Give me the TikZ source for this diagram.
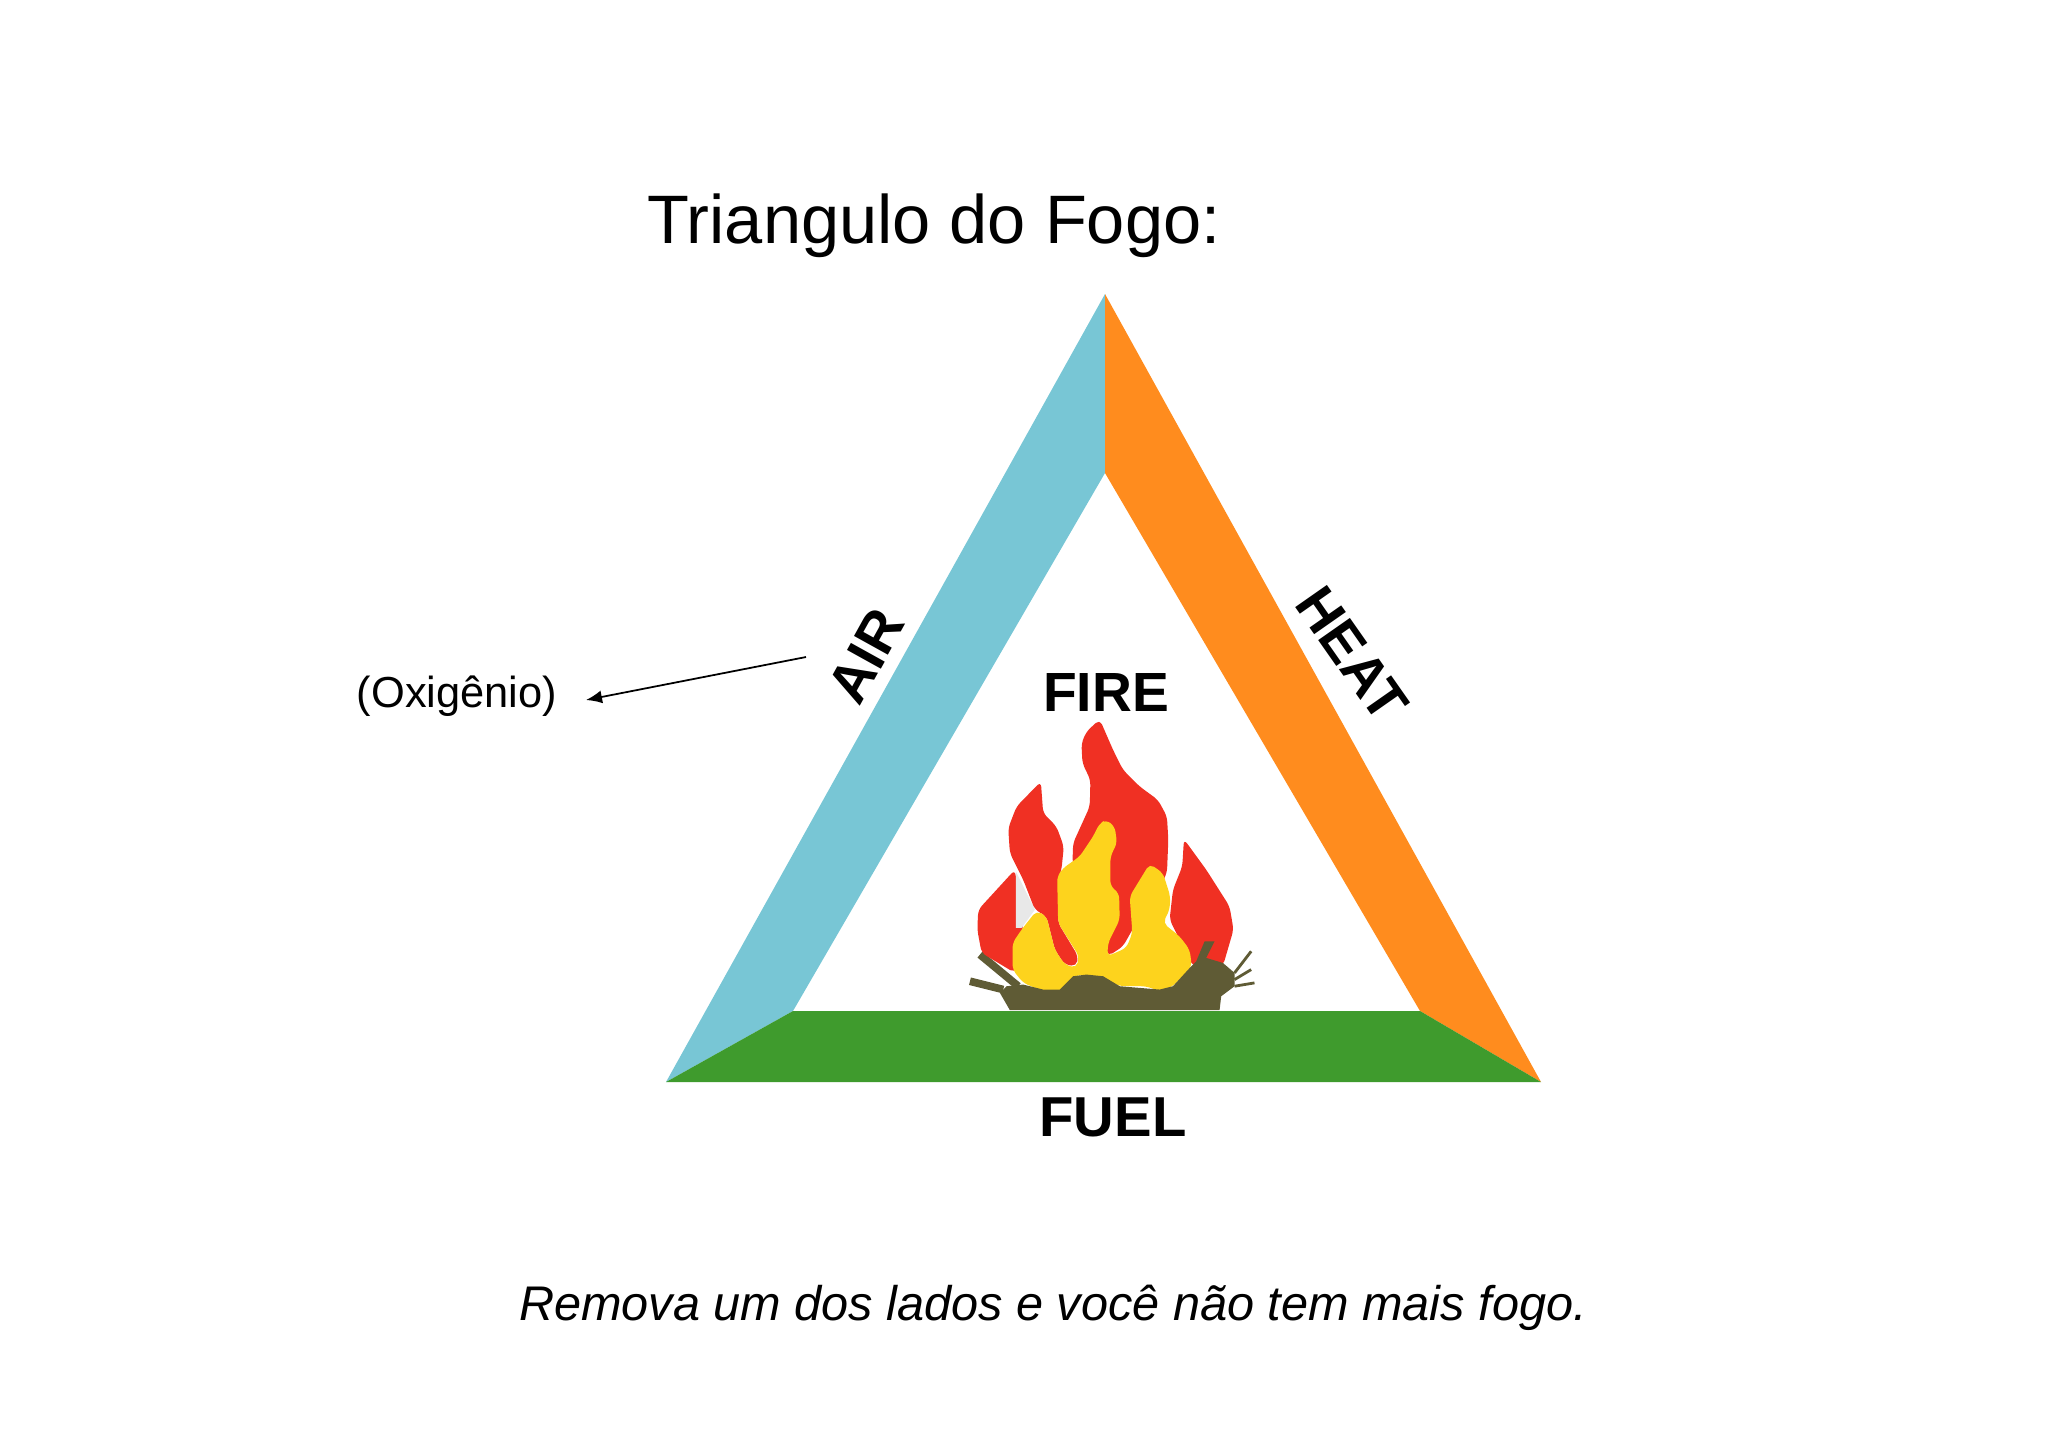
\documentclass[tikz,border=0pt]{standalone}
\usepackage{fontspec}
\setmainfont{Liberation Sans}
\usetikzlibrary{arrows.meta}
\definecolor{airblue}{HTML}{78C6D5}
\definecolor{heatorange}{HTML}{FF8C1E}
\definecolor{fuelgreen}{HTML}{3F9B2D}
\definecolor{flamered}{HTML}{F03023}
\definecolor{flameyellow}{HTML}{FDD31D}
\definecolor{logolive}{HTML}{5F5B35}
\tikzset{
  sidelabel/.style={font=\bfseries\fontsize{16}{16}\selectfont,inner sep=0pt},
  twig/.style={draw=logolive,line width=2.2pt},
  wisp/.style={draw=logolive,line width=0.8pt},
  flame/.style={rounded corners=1.5pt},
  pointer/.style={-{Latex[length=1.6mm,width=1.3mm]},line width=0.5pt},
}
\begin{document}
\begin{tikzpicture}[x=0.01cm,y=-0.01cm]
\useasboundingbox (0,0) rectangle (2048,1447);
\coordinate (apex) at (1105,294);
\coordinate (left) at (666,1082);
\coordinate (right) at (1541,1082);
\coordinate (innerapex) at (1105,473);
\coordinate (innerleft) at (793,1011);
\coordinate (innerright) at (1420,1011);
\fill[airblue] (apex) -- (innerapex) -- (innerleft) -- (left) -- cycle;
\fill[heatorange] (apex) -- (right) -- (innerright) -- (innerapex) -- cycle;
\fill[fuelgreen] (left) -- (right) -- (innerright) -- (innerleft) -- cycle;
% the fire, traced on a 3x grid
\begin{scope}[shift={(940,700)},x=0.003333cm,y=-0.003333cm]
\draw[twig] (120,765) -- (235,860);
\draw[twig] (90,845) -- (190,870);
\draw[wisp] (885,820) -- (935,755);
\draw[wisp] (885,840) -- (935,810);
\draw[wisp] (885,860) -- (945,850);
\fill[flamered,flame] (225,510) -- (115,630) -- (112,690) -- (125,760) -- (225,820) -- (250,690) -- cycle;
\fill[black!9] (228,515) -- (285,630) -- (245,685) -- (228,685) -- cycle;
\fill[flamered,flame] (733,418) -- (800,510) -- (870,620) -- (882,690) -- (850,800) -- (760,800) -- (690,660) -- (700,570) -- (728,500) -- cycle;
\fill[flamered,flame] (480,58) -- (520,150) -- (550,210) -- (600,260) -- (655,300) -- (682,350) -- (686,420) -- (682,520) -- (640,600) -- (578,690) -- (550,740) -- (505,770) -- (450,600) -- (398,490) -- (400,430) -- (450,320) -- (452,240) -- (428,190) -- (425,130) -- (440,95) -- cycle;
\fill[flamered,flame] (303,245) -- (310,340) -- (350,380) -- (372,440) -- (365,510) -- (355,540) -- (355,670) -- (415,770) -- (410,800) -- (375,795) -- (345,750) -- (320,650) -- (285,630) -- (250,540) -- (210,460) -- (205,385) -- (230,320) -- cycle;
\fill[flameyellow,flame] (500,360) -- (525,380) -- (532,430) -- (512,470) -- (512,560) -- (538,580) -- (540,660) -- (505,730) -- (503,770) -- (560,745) -- (578,700) -- (570,590) -- (630,492) -- (670,520) -- (692,590) -- (690,630) -- (670,670) -- (720,710) -- (750,750) -- (757,800) -- (700,860) -- (660,875) -- (620,860) -- (540,860) -- (490,835) -- (440,825) -- (400,830) -- (360,875) -- (310,875) -- (250,850) -- (218,810) -- (218,730) -- (245,690) -- (290,633) -- (320,650) -- (345,750) -- (375,795) -- (410,805) -- (418,770) -- (355,670) -- (352,530) -- (370,505) -- (420,470) -- (460,410) -- (480,370) -- cycle;
\fill[logolive] (210,932) -- (180,880) -- (200,860) -- (250,855) -- (310,870) -- (360,870) -- (400,830) -- (440,825) -- (490,830) -- (540,860) -- (660,870) -- (700,860) -- (755,800) -- (770,785) -- (795,725) -- (825,725) -- (800,775) -- (850,790) -- (885,820) -- (885,860) -- (845,890) -- (840,932) -- cycle;
\end{scope}
\node[font=\fontsize{19.5}{23}\selectfont,inner sep=0pt] (title) at (934,226) {Triangulo do Fogo:};
\node[sidelabel,font=\bfseries\fontsize{15.7}{16}\selectfont] (fire) at (1106,692) {FIRE};
\node[sidelabel] (fuel) at (1113,1117) {FUEL};
\node[sidelabel,rotate=61] (air) at (866,656) {AIR};
\node[sidelabel,rotate=-55] (heat) at (1352,654) {HEAT};
\node[font=\fontsize{12.35}{15}\selectfont,inner sep=0pt,inner xsep=0.31cm,anchor=east] (oxigenio) at (589,696) {(Oxigênio)};
\coordinate (airtail) at (806,657);
\draw[pointer] (airtail) -- ([xshift=-0.03cm,yshift=-0.04cm]oxigenio.east);
\node[font=\itshape\fontsize{13.83}{17}\selectfont,inner sep=0pt] (caption) at (1053,1308) {Remova um dos lados e você não tem mais fogo.};
\end{tikzpicture}
\end{document}
